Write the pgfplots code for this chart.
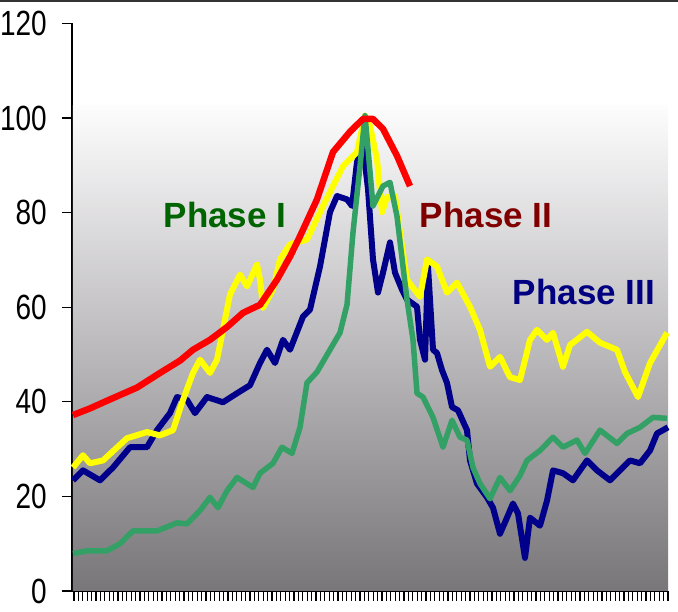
\documentclass[border=0pt]{standalone}
\usepackage{pgfplots}
\pgfplotsset{compat=1.18}
\usepackage{fontspec}
\setmainfont{Liberation Sans}
\newfontfamily\tickfont[FakeStretch=0.8]{Liberation Sans}
\definecolor{navyc}{RGB}{0,0,139}
\definecolor{greenc}{RGB}{51,160,102}
\definecolor{yellowc}{RGB}{255,255,0}
\definecolor{phaseone}{RGB}{0,100,0}
\definecolor{phasetwo}{RGB}{128,0,0}
\definecolor{phasethree}{RGB}{0,0,128}
\definecolor{bgtop}{RGB}{254,253,254}
\definecolor{bgbot}{RGB}{120,118,121}
\begin{document}
\begin{tikzpicture}
\useasboundingbox (-72pt,-21pt) rectangle (606pt,591pt);
\draw[line width=2pt,black!80] (-72pt,589.5pt) -- (606pt,589.5pt);
\begin{axis}[
  at={(0,0)}, anchor=south west,
  scale only axis, width=596pt, height=567.6pt,
  xmin=72, xmax=668, ymin=0, ymax=120,
  axis lines=left, axis line style={-, line width=1.2pt, black},
  ytick={0,20,...,120},
  xtick={74,78.4,...,668}, xticklabels={},
  tick align=outside,
  major tick length=10pt,
  tick style={line width=1.1pt, black},
  /pgf/number format/assume math mode=true,
  yticklabel style={font=\tickfont\fontsize{35}{35}\selectfont, inner sep=0pt, xshift=-15pt, anchor=east},
  clip=false,
]
\fill[top color=bgtop, bottom color=bgbot] (axis cs:73,0) rectangle (axis cs:668,102.7);
% navy
\addplot[navyc, line width=6pt, line join=round] coordinates {
(73,23.4)(83,25.5)(100,23.4)(113,26.1)(130,30.4)(147,30.4)(157,34.0)(170,37.6)(177,41.0)
(187,40.4)(195,37.6)(207,41.0)(223,39.9)(237,41.8)(250,43.5)(260,48.2)(267,51.0)(275,48.2)
(283,53.1)(290,51.0)(303,58.0)(310,59.5)(320,68.6)(330,80.1)(337,83.5)(347,82.8)(352,81.4)
(357,90.7)(363,94.0)(368,85.0)(373,70.1)(378,63.1)(383,67.3)(390,73.7)(395,67.3)(402,63.7)
(407,61.6)(417,60.1)(420,53.1)(425,48.9)(428,68.6)(433,51.0)(437,50.3)(442,46.7)(447,44.0)
(452,38.9)(458,38.2)(467,34.0)(470,27.6)(477,22.7)(487,19.8)(493,17.6)(500,12.1)(507,15.5)
(513,18.5)(518,16.4)(525,7.0)(530,15.5)(540,13.8)(547,19.1)(553,25.5)(563,24.9)(573,23.4)
(587,27.6)(597,25.5)(610,23.4)(620,25.5)(630,27.6)(640,27.0)(650,29.7)(657,33.3)(668,34.6)
};
% yellow
\addplot[yellowc, line width=6pt, line join=round] coordinates {
(73,26.1)(83,28.7)(90,27.0)(103,27.6)(127,32.3)(147,33.6)(160,32.9)(173,34.0)(183,40.4)
(193,46.1)(200,48.9)(210,46.1)(217,48.9)(230,62.7)(240,66.9)(247,64.4)(257,69.0)(260,65.8)
(263,59.9)(273,63.7)(280,70.1)(290,73.3)(307,74.3)(323,81.4)(343,89.8)(357,92.8)(365,100.5)
(370,98.3)(377,91.3)(382,80.1)(387,83.3)(395,83.5)(400,75.8)(407,65.8)(420,62.2)(427,70.1)
(437,68.6)(447,63.1)(457,65.2)(470,60.1)(480,55.2)(490,47.4)(500,49.5)(510,45.2)(520,44.6)
(530,53.1)(537,55.2)(547,53.1)(553,54.6)(563,47.4)(570,52.0)(587,54.8)(600,52.5)(617,51.0)
(625,46.3)(638,41.0)(650,48.2)(667,54.6)
};
% green
\addplot[greenc, line width=5.5pt, line join=round] coordinates {
(73,7.9)(87,8.5)(107,8.5)(120,10.0)(133,12.7)(157,12.7)(177,14.4)(187,14.2)(200,17.0)
(210,19.8)(218,17.6)(227,21.2)(237,24.0)(253,21.9)(260,24.9)(273,27.0)(282,30.4)(292,29.1)
(300,34.6)(307,44.0)(317,46.3)(330,51.0)(340,54.6)(347,60.5)(353,75.8)(360,89.8)(365,100.5)
(368,93.5)(373,81.4)(383,85.6)(390,86.4)(397,79.2)(403,68.6)(407,61.6)(413,53.1)(417,41.8)
(423,41.0)(433,36.7)(443,30.4)(452,36.1)(460,32.5)(467,31.9)(473,26.1)(480,22.7)(490,19.5)
(500,24.0)(510,21.2)(520,24.4)(527,27.6)(540,29.7)(553,32.5)(563,30.4)(577,31.9)(585,29.1)
(600,34.0)(617,31.2)(627,33.3)(640,34.6)(653,36.7)(667,36.5)
};
% red
\addplot[red, line width=6.5pt, line join=round] coordinates {
(73,37.2)(90,38.6)(110,40.5)(137,43.0)(160,46.1)(180,48.7)(193,51.0)(210,53.1)(227,55.8)
(243,58.8)(260,60.5)(277,65.8)(290,70.7)(300,75.0)(317,82.8)(333,92.8)(350,97.1)(363,99.8)
(373,99.8)(383,97.7)(397,92.0)(410,85.6)
};
\node[text=phaseone, font=\bfseries\fontsize{35}{35}\selectfont] at (axis cs:225,79.5) {Phase I};
\node[text=phasetwo, font=\bfseries\fontsize{35}{35}\selectfont] at (axis cs:486,79.5) {Phase II};
\node[text=phasethree, font=\bfseries\fontsize{35}{35}\selectfont] at (axis cs:584,63.2) {Phase III};
\end{axis}
\end{tikzpicture}
\end{document}
